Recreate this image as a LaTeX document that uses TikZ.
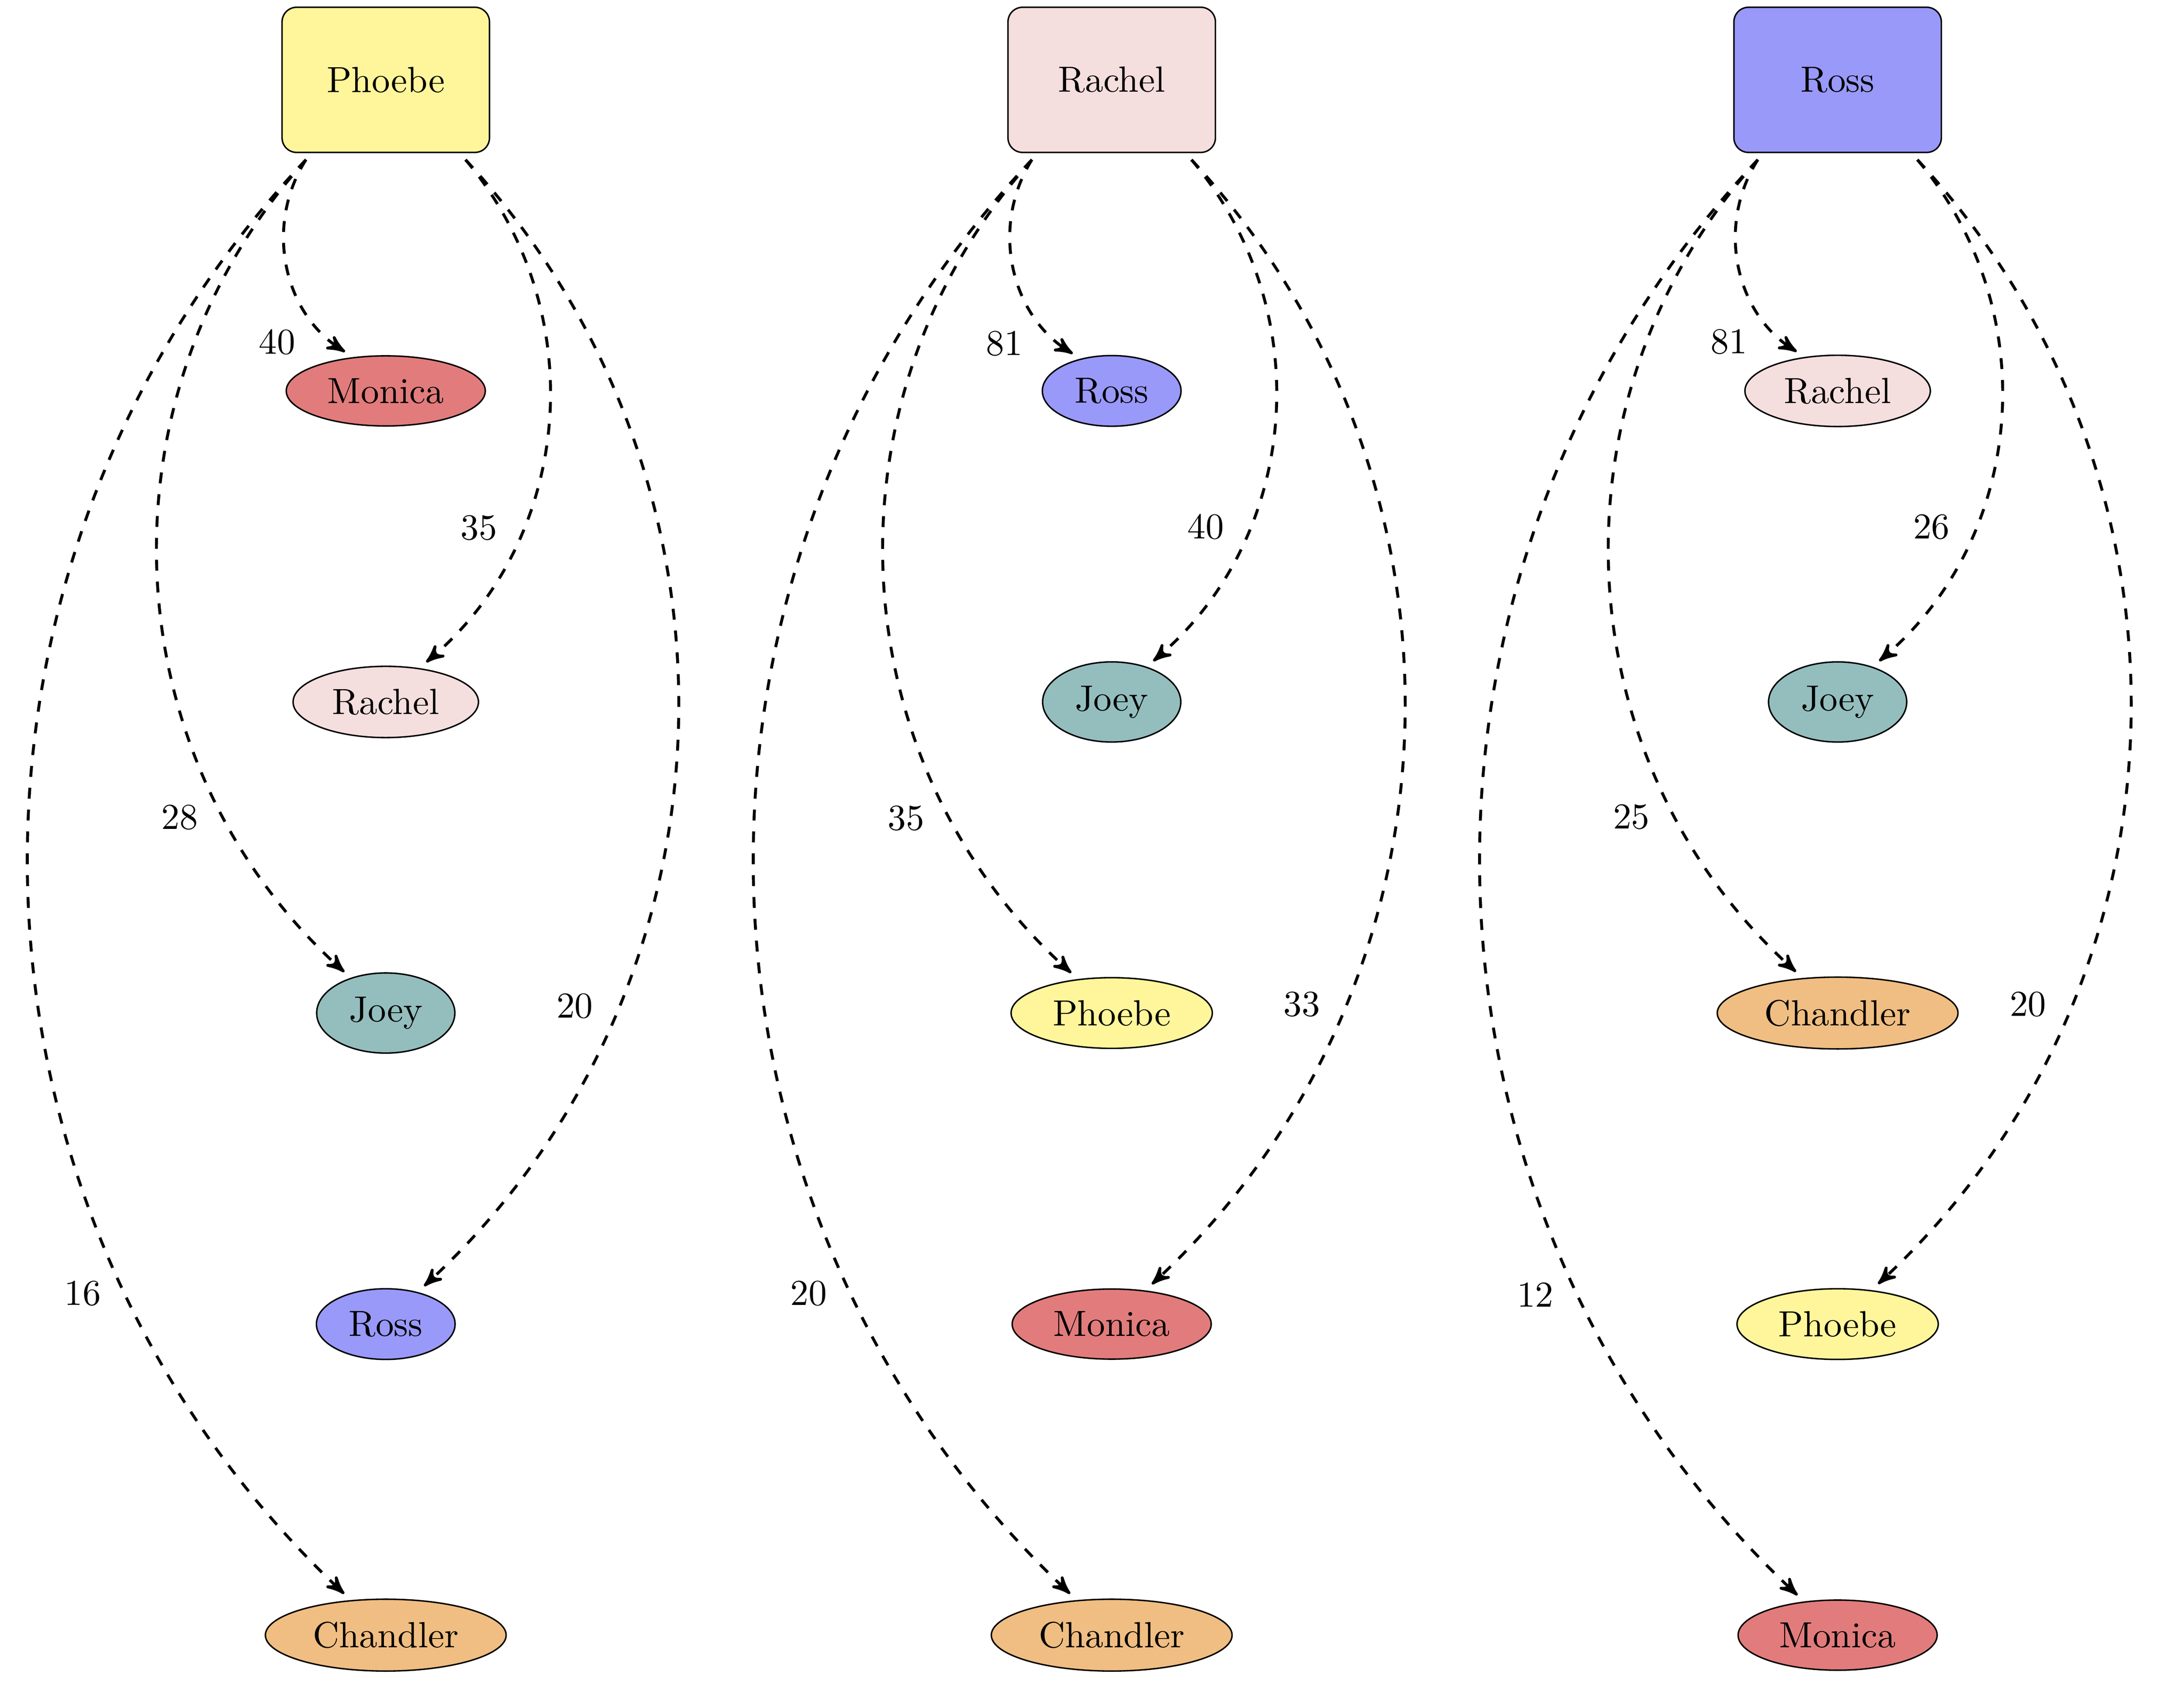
\documentclass[tikz,border=0pt]{standalone}
\usepackage{tikz}
\usetikzlibrary{arrows,shapes.geometric}

\definecolor{phoebecol}{HTML}{FFF69B}
\definecolor{rachelcol}{HTML}{F5DEDE}
\definecolor{rosscol}{HTML}{9999FA}
\definecolor{monicacol}{HTML}{E27C7C}
\definecolor{joeycol}{HTML}{94BEBE}
\definecolor{chandlercol}{HTML}{F0BE82}

\begin{document}
\begin{tikzpicture}[
  box/.style={draw, rounded corners, minimum width=2cm, minimum height=1.4cm, outer sep=2pt},
  friend/.style={draw, ellipse, outer sep=1pt},
  link/.style={dashed, thick, -stealth', shorten >=1.5pt},
  weight/.style={near end, auto, swap}]
\useasboundingbox (-3.72,-15.47) rectangle (17.34,0.77);
% top boxes
\node[box, fill=phoebecol] (phoebe) at (0,0) {Phoebe};
\node[box, fill=rachelcol] (rachel) at (7,0) {Rachel};
\node[box, fill=rosscol] (ross) at (14,0) {Ross};
% Phoebe's friends
\node[friend, fill=monicacol] (phMonica) at (0,-3) {Monica};
\node[friend, fill=rachelcol] (phRachel) at (0,-6) {Rachel};
\node[friend, fill=joeycol] (phJoey) at (0,-9) {Joey};
\node[friend, fill=rosscol] (phRoss) at (0,-12) {Ross};
\node[friend, fill=chandlercol] (phChandler) at (0,-15) {Chandler};
% Rachel's friends
\node[friend, fill=rosscol] (raRoss) at (7,-3) {Ross};
\node[friend, fill=joeycol] (raJoey) at (7,-6) {Joey};
\node[friend, fill=phoebecol] (raPhoebe) at (7,-9) {Phoebe};
\node[friend, fill=monicacol] (raMonica) at (7,-12) {Monica};
\node[friend, fill=chandlercol] (raChandler) at (7,-15) {Chandler};
% Ross's friends
\node[friend, fill=rachelcol] (roRachel) at (14,-3) {Rachel};
\node[friend, fill=joeycol] (roJoey) at (14,-6) {Joey};
\node[friend, fill=chandlercol] (roChandler) at (14,-9) {Chandler};
\node[friend, fill=phoebecol] (roPhoebe) at (14,-12) {Phoebe};
\node[friend, fill=monicacol] (roMonica) at (14,-15) {Monica};
% edges
\draw[link] (phoebe) to[bend right=45] node[weight] {40} (phMonica);
\draw[link] (phoebe) to[bend left=45] node[weight] {35} (phRachel);
\draw[link] (phoebe) to[bend right=45] node[weight] {28} (phJoey);
\draw[link] (phoebe) to[bend left=45] node[weight] {20} (phRoss);
\draw[link] (phoebe) to[bend right=45] node[weight] {16} (phChandler);
\draw[link] (rachel) to[bend right=45] node[weight] {81} (raRoss);
\draw[link] (rachel) to[bend left=45] node[weight] {40} (raJoey);
\draw[link] (rachel) to[bend right=45] node[weight] {35} (raPhoebe);
\draw[link] (rachel) to[bend left=45] node[weight] {33} (raMonica);
\draw[link] (rachel) to[bend right=45] node[weight] {20} (raChandler);
\draw[link] (ross) to[bend right=45] node[weight] {81} (roRachel);
\draw[link] (ross) to[bend left=45] node[weight] {26} (roJoey);
\draw[link] (ross) to[bend right=45] node[weight] {25} (roChandler);
\draw[link] (ross) to[bend left=45] node[weight] {20} (roPhoebe);
\draw[link] (ross) to[bend right=45] node[weight] {12} (roMonica);
\end{tikzpicture}
\end{document}
